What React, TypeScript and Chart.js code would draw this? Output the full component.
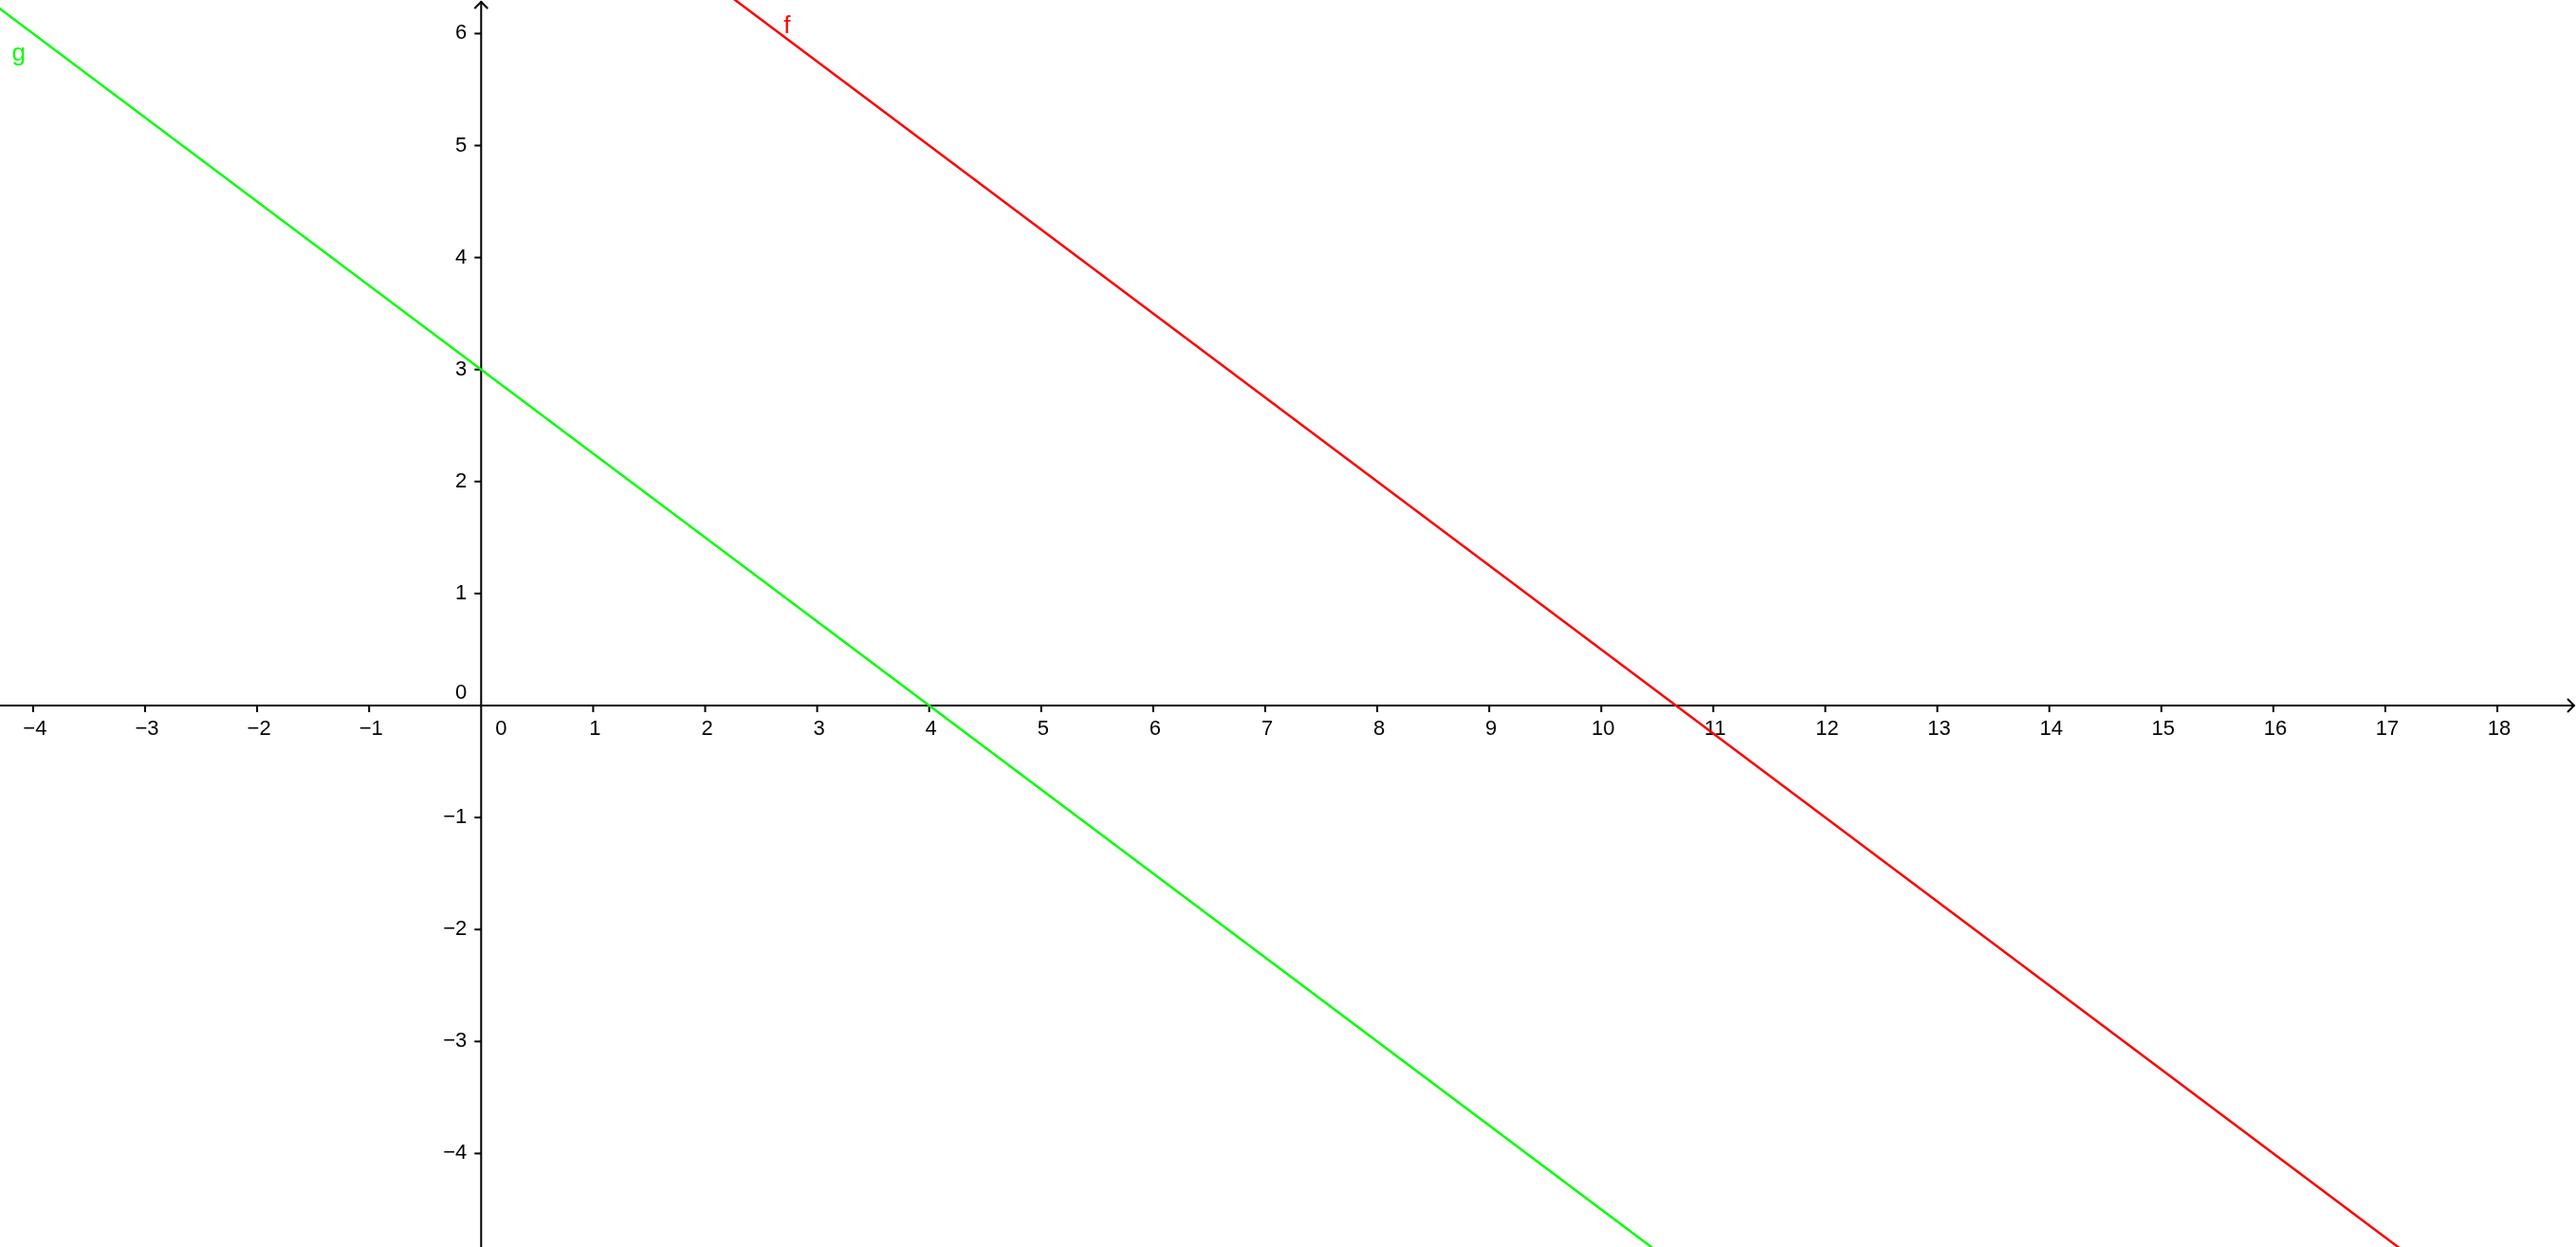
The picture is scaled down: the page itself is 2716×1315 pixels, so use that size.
import React, { useEffect, useRef } from "react";
import { Chart, registerables } from "chart.js";

Chart.register(...registerables);

// Visible window of the plane
const xRange = [-4.2955, 18.702];
const yRange = [-4.835, 6.2997];

// Tick labels on each axis
const xTickValues = [-4, -3, -2, -1, 0, 1, 2, 3, 4, 5, 6, 7, 8, 9, 10, 11, 12, 13, 14, 15, 16, 17, 18];
const yTickValues = [-4, -3, -2, -1, 0, 1, 2, 3, 4, 5, 6];

// Lines: f passes (0, 8) and (10.67, 0); g passes (0, 3) and (4, 0)
const fX = [-5, 19];
const fY = [11.75, -6.25];
const gX = [-5, 19];
const gY = [6.75, -11.25];

const lineLabels = [
  { name: "f", x: 2.7, y: 6.0, color: "#ff0000" },
  { name: "g", x: -4.19, y: 5.76, color: "#00ff00" },
];

const FONT = '"Liberation Sans", Arial, sans-serif';

const fmt = (v: number) => (v < 0 ? "\u2212" + Math.abs(v) : String(v));

const axesPlugin = {
  id: "geoAxes",
  beforeDatasetsDraw(chart: any) {
    const ctx = chart.ctx as CanvasRenderingContext2D;
    const xs = chart.scales.x;
    const ys = chart.scales.y;
    const ox = xs.getPixelForValue(0);
    const oy = ys.getPixelForValue(0);
    const W = chart.width;
    const H = chart.height;
    ctx.save();
    ctx.strokeStyle = "#000";
    ctx.fillStyle = "#000";
    ctx.lineWidth = 2;
    // x axis
    ctx.beginPath();
    ctx.moveTo(0, oy);
    ctx.lineTo(W - 1, oy);
    ctx.stroke();
    // arrow right
    ctx.beginPath();
    ctx.moveTo(W - 9, oy - 7);
    ctx.lineTo(W - 2, oy);
    ctx.lineTo(W - 9, oy + 7);
    ctx.stroke();
    // y axis
    ctx.beginPath();
    ctx.moveTo(ox, H);
    ctx.lineTo(ox, 1);
    ctx.stroke();
    ctx.beginPath();
    ctx.moveTo(ox - 7, 9);
    ctx.lineTo(ox, 2);
    ctx.lineTo(ox + 7, 9);
    ctx.stroke();

    ctx.font = `22px ${FONT}`;
    // x ticks
    ctx.textAlign = "center";
    ctx.textBaseline = "middle";
    for (const v of xTickValues) {
      const px = xs.getPixelForValue(v);
      if (v !== 0) {
        ctx.beginPath();
        ctx.moveTo(px, oy);
        ctx.lineTo(px, oy + 7);
        ctx.stroke();
        ctx.fillText(fmt(v), px + 2, oy + 25);
      } else {
        ctx.fillText("0", px + 21, oy + 25);
      }
    }
    // y ticks
    ctx.textAlign = "right";
    for (const v of yTickValues) {
      const py = ys.getPixelForValue(v);
      if (v !== 0) {
        ctx.beginPath();
        ctx.moveTo(ox, py);
        ctx.lineTo(ox - 7, py);
        ctx.stroke();
        ctx.fillText(fmt(v), ox - 15, py);
      } else {
        ctx.fillText("0", ox - 15, py - 13);
      }
    }
    ctx.restore();
  },
  afterDatasetsDraw(chart: any) {
    const ctx = chart.ctx as CanvasRenderingContext2D;
    const xs = chart.scales.x;
    const ys = chart.scales.y;
    ctx.save();
    ctx.font = `26px ${FONT}`;
    ctx.textAlign = "left";
    ctx.textBaseline = "alphabetic";
    for (const l of lineLabels) {
      ctx.fillStyle = l.color;
      ctx.fillText(l.name, xs.getPixelForValue(l.x), ys.getPixelForValue(l.y));
    }
    ctx.restore();
  },
};

export default function App() {
  const ref = useRef<HTMLCanvasElement | null>(null);
  useEffect(() => {
    document.body.style.margin = "0";
    const canvas = ref.current!;
    const chart = new Chart(canvas, {
      type: "scatter",
      data: {
        datasets: [
          {
            label: "f",
            data: fX.map((x, i) => ({ x, y: fY[i] })),
            showLine: true,
            borderColor: "#ff0000",
            borderWidth: 2.5,
            pointRadius: 0,
            fill: false,
          },
          {
            label: "g",
            data: gX.map((x, i) => ({ x, y: gY[i] })),
            showLine: true,
            borderColor: "#00ff00",
            borderWidth: 2.5,
            pointRadius: 0,
            fill: false,
          },
        ],
      },
      options: {
        animation: false,
        responsive: false,
        devicePixelRatio: 1,
        layout: { padding: 0 },
        plugins: { legend: { display: false }, tooltip: { enabled: false } },
        scales: {
          x: { type: "linear", min: xRange[0], max: xRange[1], display: false },
          y: { type: "linear", min: yRange[0], max: yRange[1], display: false },
        },
      },
      plugins: [axesPlugin],
    });
    return () => chart.destroy();
  }, []);
  return (
    <div style={{ position: "absolute", left: 0, top: 0, width: 2716, height: 1315, background: "#fff" }}>
      <canvas ref={ref} width={2716} height={1315} style={{ display: "block" }} />
    </div>
  );
}
